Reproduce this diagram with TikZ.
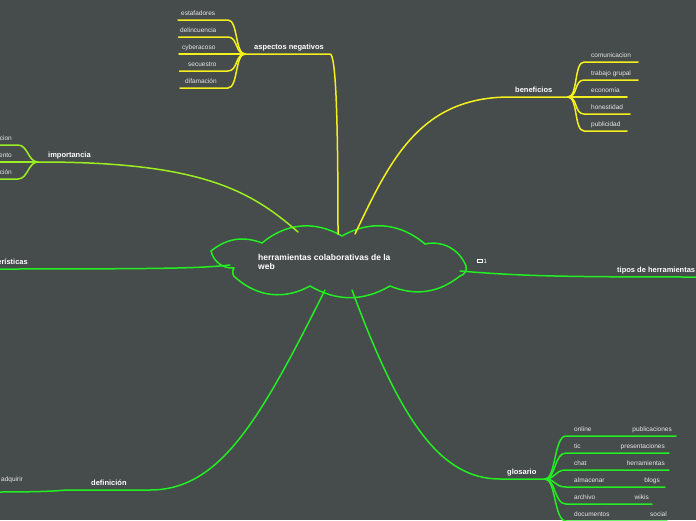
\documentclass[tikz,border=0pt]{standalone}
\usepackage{fontspec}
\setmainfont{Liberation Sans}
\definecolor{bg}{HTML}{464B4B}
\definecolor{yl}{HTML}{F4F01E}
\definecolor{gr}{HTML}{22EE22}
\definecolor{lm}{HTML}{9BEE22}
\definecolor{tx}{HTML}{E8E8E8}
\begin{document}
\begin{tikzpicture}[x=1pt,y=-1pt,
 lbl/.style={text=tx,font=\fontsize{6.5}{7}\selectfont,anchor=base west,inner sep=0},
 big/.style={text=white,font=\bfseries\fontsize{7.5}{8}\selectfont,anchor=base west,inner sep=0},
 ln/.style={line width=1.5pt,line cap=round}]
\fill[bg] (0,0) rectangle (696,520);
\useasboundingbox (0,0) rectangle (696,520);
\begin{scope}
\clip (0,0) rectangle (696,520);
% central cloud
\draw[gr,line width=1.5pt,fill=bg] (262,243) to[bend left=35] (342,236) to[bend left=35] (425,244)
  to[bend left=40] (466,266) to[bend left=45] (460,276) to[bend left=30] (390,286)
  to[bend left=30] (310,286) to[bend left=35] (236,278) to[bend left=50] (234,268)
  to[bend left=40] (211,251) to[bend left=30] cycle;
\node[text=white,font=\bfseries\fontsize{8.5}{9.5}\selectfont,align=left,anchor=north west,inner sep=0] (ct) at (258,254) {herramientas colaborativas de la\\web};
\node[text=white,font=\fontsize{6}{7}\selectfont,inner sep=0] (cm) at (482,261) {\tikz[x=1pt,y=1pt]{\draw[white,line width=0.8pt](0,0) rectangle (5,3);}\,1};
% aspectos negativos
\coordinate (an0) at (338,234);
\coordinate (an1) at (245,54);
\node[big] (an) at (254,49) {aspectos negativos};
\draw[yl,ln] (an0) .. controls (338,120) and (336,54) .. (330,54) -- (an1);
\foreach \t/\y/\xl/\w in {estafadores/13/181/0,delincuencia/30/180/1,cyberacoso/47/182/2,secuestro/64/188/3,difamación/81/185/4}{
  \node[lbl] (a\w) at (\xl,\y+2) {\t};
  \draw[yl,ln] (178+\w*0.5,\y+7) -- (228,\y+7) .. controls (238,\y+7) and (235,54) .. (an1);}
% beneficios
\coordinate (b0) at (355,234);
\coordinate (b1) at (568,97);
\node[big] (be) at (515,92) {beneficios};
\draw[yl,ln] (b0) .. controls (390,160) and (420,97) .. (510,97) -- (b1);
\foreach \t/\y/\xr/\w in {comunicacion/62/638/0,trabajo grupal/80/638/1,economía/97/627/2,honestidad/114/630/3,publicidad/131/627/4}{
  \node[lbl] (bb\w) at (591,\y-5) {\t};
  \draw[yl,ln] (b1) .. controls (578,97) and (574,\y) .. (584,\y) -- (\xr,\y);}
% importancia
\coordinate (i0) at (298,232);
\coordinate (i1) at (38,162);
\node[big] (im) at (48,157) {importancia};
\draw[lm,ln] (i0) .. controls (250,190) and (200,162) .. (40,162) -- (i1);
\foreach \t/\y/\w in {comunicacion/145/0,conocimiento/162/1,organización/179/2}{
  \node[lbl,anchor=base east] (ii\w) at (12,\y-5) {\t};
  \draw[lm,ln] (i1) .. controls (28,162) and (28,\y) .. (18,\y) -- (-5,\y);}
% caracteristicas
\coordinate (k0) at (230,265);
\node[big,anchor=base east] (ka) at (28,264) {características};
\draw[gr,ln] (k0) .. controls (200,268) and (180,269) .. (-5,269);
% tipos
\coordinate (t0) at (460,271);
\node[big] (ti) at (617,272) {tipos de herramientas};
\draw[gr,ln] (t0) .. controls (520,276) and (560,277) .. (700,277);
% definicion
\coordinate (d0) at (325,290);
\coordinate (d1) at (68,490);
\node[big] (de) at (91,485) {definición};
\node[lbl] (ad) at (1,481) {adquirir};
\draw[gr,ln] (d0) .. controls (260,420) and (220,490) .. (150,490) -- (d1) .. controls (60,490) and (60,492) .. (-5,492);
% glosario
\coordinate (g0) at (352,290);
\coordinate (g1) at (545,479);
\node[big] (gl) at (507,474) {glosario};
\draw[gr,ln] (g0) .. controls (400,420) and (440,479) .. (500,479) -- (g1);
\foreach \a/\b/\y/\xr/\bx/\w in {online/publicaciones/436/676/672/0,tic/presentaciones/453/669/665/1,chat/herramientas/470/669/665/2,almacenar/blogs/487/665/660/3,archivo/wikis/504/652/649/4,documentos/social/521/667/667/5}{
  \node[lbl] (gA\w) at (574,\y-5) {\a};
  \node[lbl,anchor=base east] (gB\w) at (\bx,\y-5) {\b};
  \draw[gr,ln] (g1) .. controls (556,479) and (554,\y) .. (566,\y) -- (\xr,\y);}
\end{scope}
\end{tikzpicture}
\end{document}
